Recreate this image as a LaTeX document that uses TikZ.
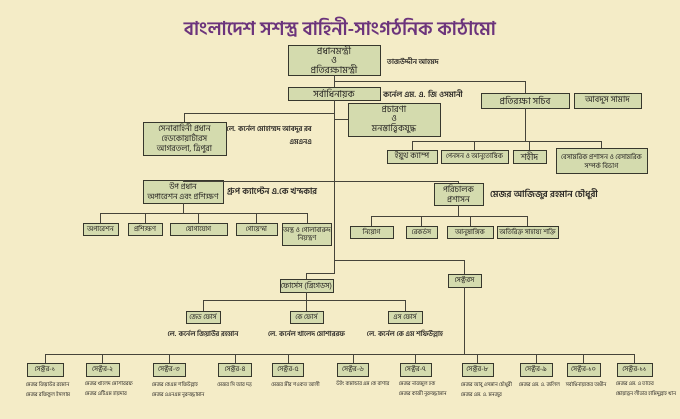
\documentclass[tikz,border=0pt]{standalone}
\usepackage{fontspec}
\newfontfamily\bn[Script=Bengali]{Hind Siliguri}
\definecolor{bgc}{RGB}{244,236,199}
\definecolor{boxfill}{RGB}{212,219,174}
\definecolor{boxline}{RGB}{55,55,45}
\definecolor{linec}{RGB}{70,68,58}
\definecolor{lblc}{RGB}{40,38,35}
\definecolor{titlec}{RGB}{108,52,124}
\begin{document}
\begin{tikzpicture}[x=1pt,y=-1pt,
  box/.style={draw=boxline, fill=boxfill, line width=0.8pt, inner sep=0.5pt, align=center, text=lblc, font=\bn\fontsize{7}{8.3}\selectfont},
  bx/.style 2 args={box, minimum width=#1pt, minimum height=#2pt},
  fsz/.style 2 args={font=\bn\fontsize{#1}{#2}\selectfont},
  lbl/.style={font=\bn\bfseries\fontsize{7}{9}\selectfont, text=lblc, inner sep=0pt},
  lfs/.style={font=\bn\bfseries\fontsize{#1}{9}\selectfont},
  conn/.style={draw=linec, line width=0.7pt},
  sect/.style={font=\bn\fontsize{5.3}{10}\selectfont, text=lblc, inner sep=0pt, align=left, anchor=north west, xshift=-1pt, yshift=-5pt}]
\fill[bgc] (0,0) rectangle (680,419);
\useasboundingbox (0,0) rectangle (680,419);
% title
\node[font=\bn\bfseries\fontsize{19}{21}\selectfont, text=titlec] (title) at (340,27) {বাংলাদেশ সশস্ত্র বাহিনী-সাংগঠনিক কাঠামো};
% top
\node[bx={92}{30}, fsz={9.5}{8.8}] (pm) at (334,60) {প্রধানমন্ত্রী\\ও\\প্রতিরক্ষামন্ত্রী};
\node[bx={92}{13}, fsz={9.5}{10}] (cinc) at (334,93.5) {সর্বাধিনায়ক};
\node[lbl, lfs=7.2, anchor=west] (taj) at (387,61) {তাজউদ্দীন আহমদ};
\node[lbl, lfs=8, anchor=west] (osm) at (383,94) {কর্নেল এম. এ. জি ওসমানী};
% defence secretary
\node[bx={88}{15}, fsz={9.3}{10}] (defsec) at (525,100.5) {প্রতিরক্ষা সচিব};
\node[bx={67}{15}, fsz={8.5}{10}] (samad) at (607.5,100.5) {আবদুস সামাদ};
\node[bx={50}{13}, fsz={8.2}{10}] (youth) at (412,156.5) {ইয়ুথ ক্যাম্প};
\node[bx={67}{13}] (pension) at (474.5,156.5) {পেনসন ও আনুতোষিক};
\node[bx={33}{13}, fsz={9}{10}] (shahid) at (529.5,156.5) {শহীদ};
\node[bx={91}{25}, fsz={7}{9}] (civil) at (601.5,160.5) {বেসামরিক প্রশাসন ও বেসামরিক\\সম্পর্ক বিভাগ};
% HQ and psy
\node[bx={83}{33}, fsz={8.4}{9.6}] (hq) at (184.5,138.5) {সেনাবাহিনী প্রধান\\হেডকোয়ার্টারস\\আগরতলা, ত্রিপুরা};
\node[lbl, font=\bn\bfseries\fontsize{7.2}{13}\selectfont, align=right, anchor=east] (rab) at (312,135) {লে. কর্নেল মোহাম্মদ আবদুর রব\\এমএনএ};
\node[bx={92}{33}, fsz={9}{9.6}] (psy) at (394,119.5) {প্রচারণা\\ও\\মনস্তাত্ত্বিকযুদ্ধ};
% deputy chief
\node[bx={80}{23}, fsz={8}{9.5}] (dep) at (183,191.5) {উপ প্রধান\\অপারেশন এবং প্রশিক্ষণ};
\node[lbl, lfs=8.8, anchor=west] (khan) at (227,191) {গ্রুপ ক্যাপ্টেন এ.কে খন্দকার};
\node[bx={35}{12}] (ops) at (100.5,229) {অপারেশন};
\node[bx={34}{12}] (trn) at (145,229) {প্রশিক্ষণ};
\node[bx={57}{12}] (com) at (198.5,229) {যোগাযোগ};
\node[bx={41}{12}] (int) at (256.5,229) {গোয়েন্দা};
\node[bx={48}{22}] (arms) at (307,234) {অস্ত্র ও গোলাবারুদ\\নিয়ন্ত্রণ};
% administration
\node[bx={49}{22}, fsz={8.5}{9.5}] (adm) at (458.5,194) {পরিচালক\\প্রশাসন};
\node[lbl, lfs=9.2, anchor=west] (aziz) at (490,194) {মেজর আজিজুর রহমান চৌধুরী};
\node[bx={43}{12}] (rec) at (371.5,232) {নিয়োগ};
\node[bx={31}{12}] (recd) at (421.5,232) {রেকর্ডস};
\node[bx={46}{12}] (anc) at (470,232) {আনুষাঙ্গিক};
\node[bx={61}{12}] (aux) at (527.5,232) {অতিরিক্ত সাহায্য শক্তি};
% forces
\node[bx={53}{13}, fsz={7.8}{9}] (forces) at (306.5,285.5) {ফোর্সেস (ব্রিগেডস)};
\node[bx={33}{13}, fsz={7.4}{9}] (sectors) at (464.5,280.5) {সেক্টরস};
\node[bx={34}{12}] (zf) at (203,317) {জেড ফোর্স};
\node[bx={33}{12}] (kf) at (306.5,317) {কে ফোর্স};
\node[bx={34}{12}] (sf) at (405,317) {এস ফোর্স};
\node[lbl, anchor=north, yshift=-7pt] (zl) at (zf.south) {লে. কর্নেল জিয়াউর রহমান};
\node[lbl, anchor=north, yshift=-7pt] (kl) at (kf.south) {লে. কর্নেল খালেদ মোশাররফ};
\node[lbl, anchor=north, yshift=-7pt] (sl) at (sf.south) {লে. কর্নেল কে এম শফিউল্লাহ};
% sectors
\node[bx={36}{13}] (s1) at (45,369.5) {সেক্টর-১};
\node[bx={33}{13}] (s2) at (102.5,369.5) {সেক্টর-২};
\node[bx={32}{13}] (s3) at (169,369.5) {সেক্টর-৩};
\node[bx={33}{13}] (s4) at (235,369.5) {সেক্টর-৪};
\node[bx={31}{13}] (s5) at (288,369.5) {সেক্টর-৫};
\node[bx={31}{13}] (s6) at (353,369.5) {সেক্টর-৬};
\node[bx={31}{13}] (s7) at (415.5,369.5) {সেক্টর-৭};
\node[bx={31}{13}] (s8) at (477.5,369.5) {সেক্টর-৮};
\node[bx={32}{13}] (s9) at (536,369.5) {সেক্টর-৯};
\node[bx={33}{13}] (s10) at (583.5,369.5) {সেক্টর-১০};
\node[bx={35}{13}] (s11) at (634.5,369.5) {সেক্টর-১১};
\node[sect] (t1) at (s1.south west) {মেজর জিয়াউর রহমান\\মেজর রফিকুল ইসলাম};
\node[sect] (t2) at (s2.south west) {মেজর খালেদ মোশাররফ\\মেজর এটিএম হায়দার};
\node[sect] (t3) at (s3.south west) {মেজর কেএম শফিউল্লাহ\\মেজর এএনএম নূরুজ্জামান};
\node[sect] (t4) at (s4.south west) {মেজর সি আর দত্ত};
\node[sect] (t5) at (s5.south west) {মেজর মীর শওকত আলী};
\node[sect] (t6) at (s6.south west) {উইং কমান্ডার এম কে বাশার};
\node[sect] (t7) at (s7.south west) {মেজর নাজমুল হক\\মেজর কাজী নূরুজ্জামান};
\node[sect] (t8) at (s8.south west) {মেজর আবু ওসমান চৌধুরী\\মেজর এম. এ. মনজুর};
\node[sect] (t9) at (s9.south west) {মেজর এম. এ. জলিল};
\node[sect] (t10) at (s10.south west) {সর্বাধিনায়কের অধীন};
\node[sect] (t11) at (s11.south west) {মেজর এম. এ তাহের\\স্কোয়াড্রন লীডার হামিদুল্লাহ খান};
% connectors
\draw[conn] (pm.south) -- (cinc.north);
\draw[conn] (pm.south) -- ++(0,6) -| (defsec.north);
\foreach \c in {youth,pension,shahid,civil} \draw[conn] (defsec.south) -- ++(0,33) -| (\c.north);
\draw[conn] (cinc.south) -- ++(0,13) -| (hq.north);
\draw[conn] (cinc.south) |- (psy.west);
\draw[conn] (cinc.south) -- ++(0,80.5) -| (dep.north);
\draw[conn] (cinc.south) -- ++(0,80.5) -| (adm.north);
\draw[conn] (cinc.south) -- ++(0,173) -| (forces.north);
\draw[conn] (cinc.south) -- ++(0,160) -| (sectors.north);
\foreach \c in {ops,trn,com,int,arms} \draw[conn] (dep.south) -- ++(0,10) -| (\c.north);
\foreach \c in {rec,recd,anc,aux} \draw[conn] (adm.south) -- ++(0,11) -| (\c.north);
\foreach \c in {zf,kf,sf} \draw[conn] (forces.south) -- ++(0,8) -| (\c.north);
\foreach \c in {s1,s2,s3,s4,s5,s6,s7,s8,s9,s10,s11} \draw[conn] (sectors.south) -- ++(0,67) -| (\c.north);
\end{tikzpicture}
\end{document}
